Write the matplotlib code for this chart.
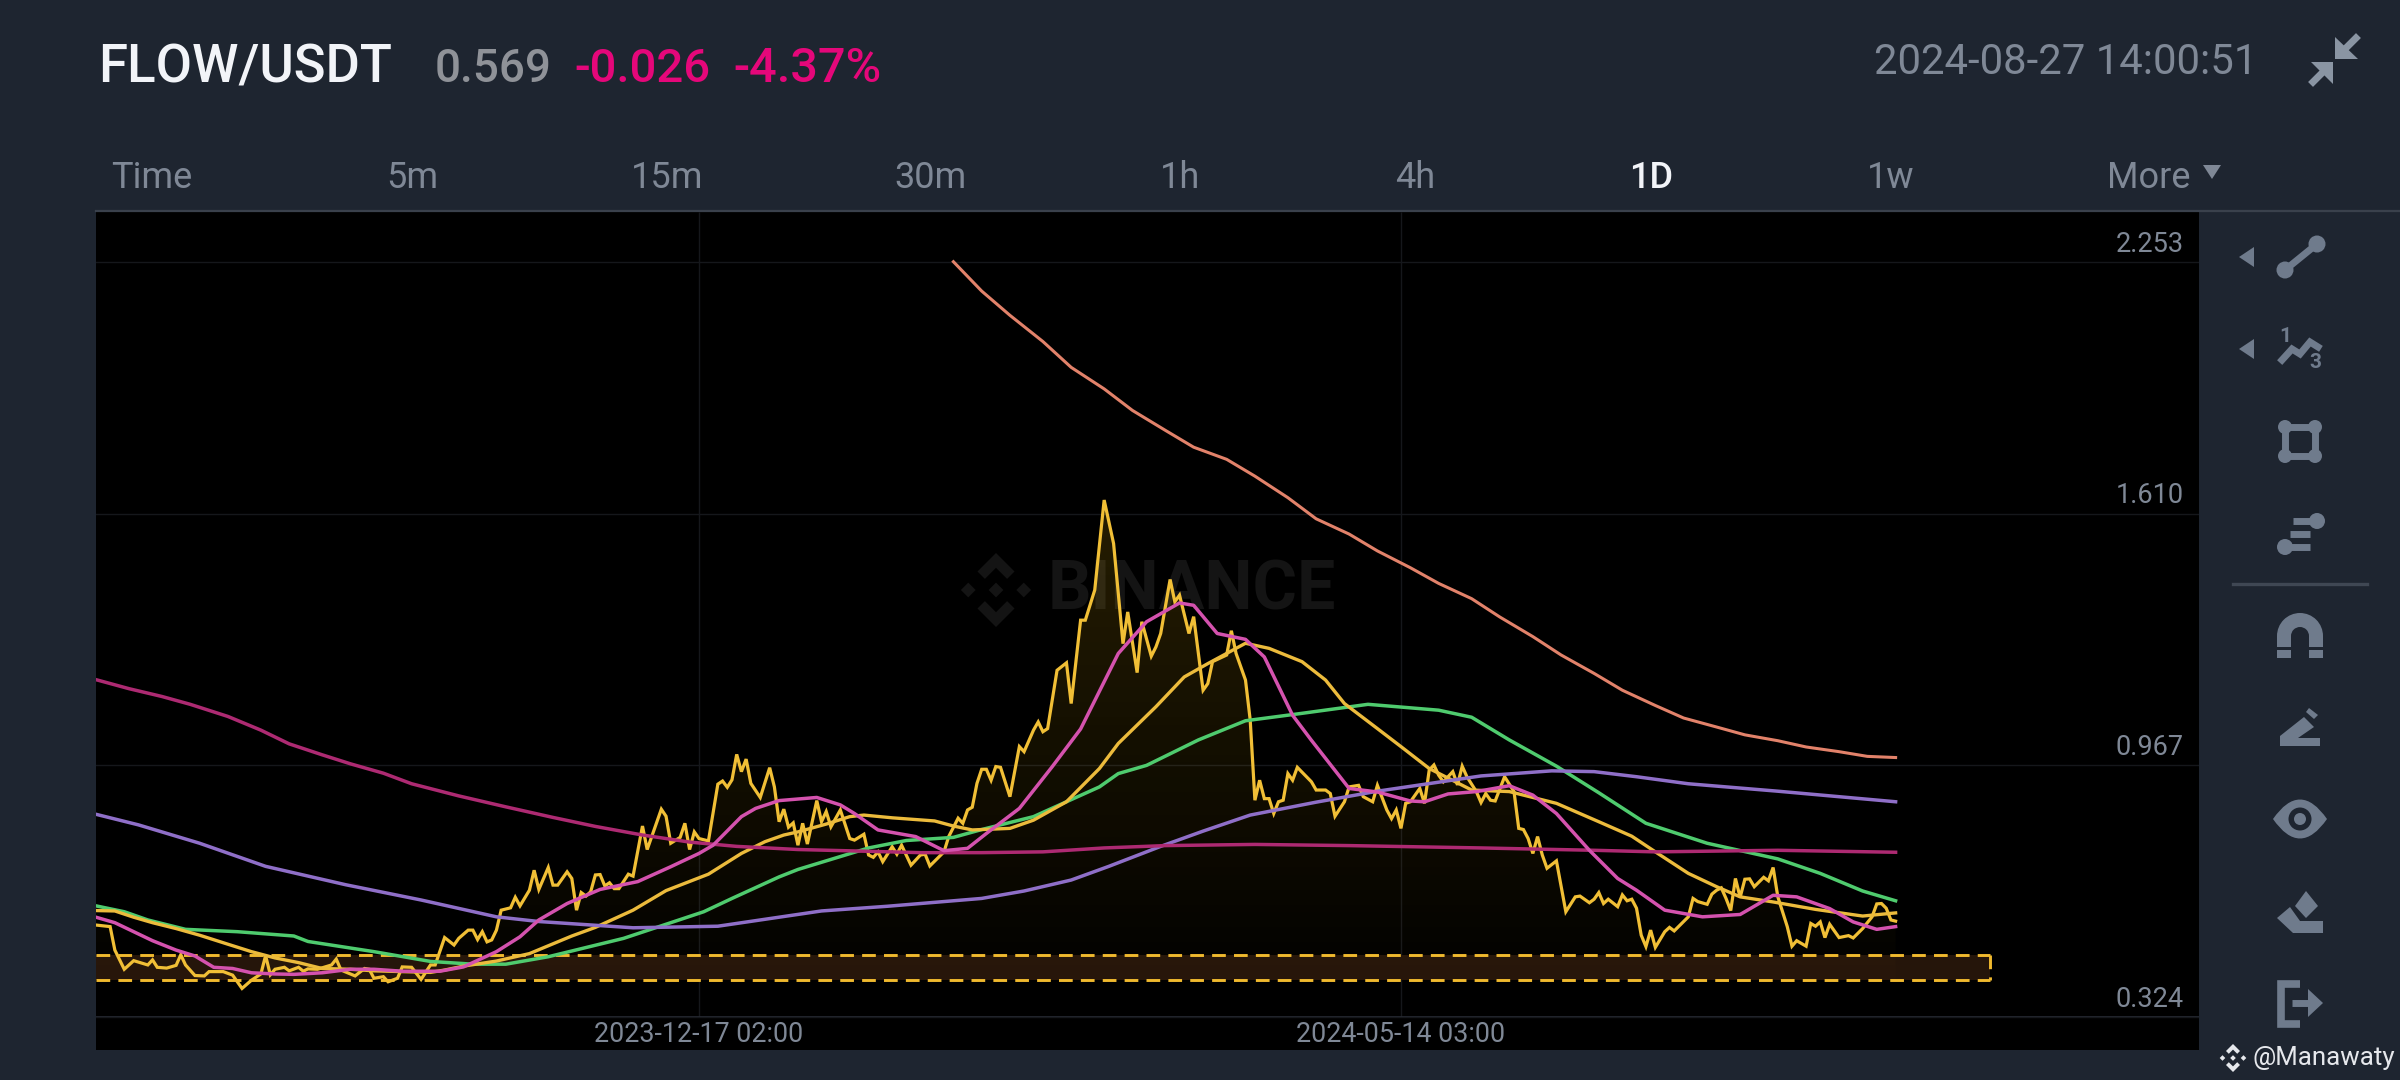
import numpy as np
import matplotlib
matplotlib.use("Agg")
import matplotlib.pyplot as plt
from matplotlib.patches import Polygon, Rectangle, Circle, Wedge, PathPatch
from matplotlib.path import Path
from matplotlib.transforms import ScaledTranslation

plt.rcParams['font.family'] = ['Roboto', 'DejaVu Sans']

# Data (days counted from 2023-12-17) =========================================
price_days = [
    -128, -125, -124, -122, -120, -117, -116, -115, -113, -111,
    -110, -109, -107, -105, -104, -101, -99, -97, -95, -93,
    -92, -91, -90, -88, -87, -85, -84, -83, -81, -78,
    -77, -76, -73, -71, -70, -69, -67, -66, -64, -63,
    -61, -59, -57, -56, -54, -52, -51, -49, -48, -47,
    -46, -45, -44, -43, -42, -40, -39, -38, -36, -35,
    -34, -32, -31, -30, -28, -27, -26, -25, -24, -23,
    -22, -21, -20, -19, -18, -17, -15, -14, -12, -11,
    -8, -7, -6, -4, -3, -2, -1, 0, 2, 4,
    5, 6, 7, 8, 9, 10, 11, 13, 15, 16,
    17, 18, 19, 20, 21, 22, 23, 25, 26, 27,
    28, 30, 32, 33, 35, 36, 37, 38, 39, 41,
    42, 43, 45, 47, 48, 49, 52, 53, 55, 56,
    57, 58, 59, 60, 61, 62, 63, 64, 66, 68,
    69, 71, 72, 73, 74, 76, 78, 79, 81, 82,
    84, 86, 88, 90, 91, 93, 94, 96, 97, 98,
    100, 101, 102, 104, 105, 107, 108, 109, 112, 113,
    114, 116, 117, 118, 119, 120, 121, 122, 123, 124,
    125, 126, 127, 130, 131, 133, 134, 135, 137, 138,
    140, 141, 143, 144, 146, 147, 148, 149, 150, 151,
    153, 154, 155, 156, 157, 158, 160, 161, 162, 163,
    165, 166, 167, 168, 169, 171, 173, 174, 175, 176,
    177, 178, 179, 180, 182, 184, 186, 187, 189, 190,
    191, 192, 193, 195, 196, 197, 198, 199, 200, 201,
    202, 203, 205, 206, 207, 210, 211, 212, 214, 215,
    216, 217, 218, 219, 220, 221, 222, 223, 224, 226,
    227, 228, 229, 231, 232, 233, 235, 236, 237, 238,
    239, 240, 242, 244, 245, 247, 249, 250, 251, 252,
    253, 254,
]
price_close = [
    .559, .555, .495, .446, .468, .457, .470, .451, .449, .456,
    .483, .457, .430, .429, .440, .440, .431, .397, .418, .434,
    .481, .432, .446, .451, .442, .451, .441, .447, .446, .457,
    .472, .444, .429, .448, .446, .423, .427, .414, .423, .452,
    .451, .420, .457, .457, .527, .508, .525, .546, .546, .522,
    .542, .516, .521, .546, .597, .603, .630, .608, .648, .699,
    .650, .706, .661, .661, .695, .678, .597, .642, .633, .644,
    .687, .688, .659, .667, .652, .652, .689, .684, .812, .752,
    .855, .837, .768, .783, .819, .752, .797, .780, .774, .919,
    .927, .911, .930, .995, .951, .983, .921, .885, .961, .912,
    .823, .855, .809, .820, .763, .819, .766, .877, .823, .849,
    .810, .853, .780, .776, .791, .738, .732, .746, .721, .759,
    .740, .763, .712, .738, .740, .710, .746, .785, .832, .819,
    .853, .860, .921, .957, .957, .929, .964, .962, .887, 1.015,
    1.002, 1.057, 1.078, 1.053, 1.061, 1.210, 1.229, 1.125, 1.338, 1.338,
    1.415, 1.645, 1.534, 1.278, 1.359, 1.204, 1.334, 1.246, 1.270, 1.304,
    1.442, 1.385, 1.402, 1.304, 1.347, 1.159, 1.176, 1.232, 1.249, 1.311,
    1.253, 1.185, 1.083, .878, .929, .882, .882, .844, .874, .878,
    .946, .929, .962, .925, .904, .904, .895, .837, .874, .912,
    .916, .887, .874, .916, .853, .831, .853, .806, .870, .874,
    .908, .870, .955, .968, .942, .925, .951, .917, .965, .938,
    .900, .872, .895, .878, .876, .938, .900, .806, .803, .780,
    .742, .785, .738, .704, .723, .593, .631, .633, .616, .625,
    .642, .614, .625, .606, .636, .621, .625, .602, .533, .504,
    .546, .502, .542, .553, .544, .580, .627, .619, .612, .638,
    .648, .654, .627, .596, .678, .630, .676, .677, .657, .681,
    .672, .706, .631, .555, .505, .519, .505, .563, .556, .567,
    .527, .561, .527, .532, .526, .550, .580, .613, .614, .602,
    .572, .569,
]

ma_yellow_days = [-128, -124, -120, -116, -111, -106, -100, -95, -90, -85, -80, -74, -69, -63, -57, -54, -50, -43,
                  -36, -27, -22, -14, -7, 2, 9, 14, 18, 21, 27, 32, 35, 41, 50, 54, 58, 66, 71, 78, 85, 89, 97,
                  103, 108, 116, 121, 128, 133, 137, 144, 149, 155, 164, 172, 182, 191, 198, 203, 210, 216, 221,
                  228, 237, 247, 254]
ma_yellow = [.596, .595, .579, .565, .550, .533, .510, .491, .475, .463, .448, .446, .442, .440, .438, .444, .454, .467,
             .486, .531, .553, .597, .647, .689, .742, .772, .789, .797, .817, .836, .840, .833, .825, .812, .802, .806,
             .827, .874, .959, 1.023, 1.117, 1.193, 1.227, 1.279, 1.266, 1.232, 1.185, 1.125, 1.061, 1.015, .959, .904,
             .900, .870, .823, .786, .746, .691, .657, .631, .618, .599, .582, .590]

ma_pink_days = [-128, -124, -120, -116, -111, -107, -103, -99, -95, -90, -86, -80, -74, -69, -63, -55, -50, -43, -38,
                -34, -28, -21, -13, -6, 0, 3, 9, 12, 17, 25, 30, 33, 38, 46, 52, 57, 61, 68, 75, 81, 89, 95, 102,
                105, 110, 116, 120, 126, 130, 138, 144, 151, 154, 159, 165, 172, 177, 182, 189, 195, 199, 205, 213,
                221, 228, 233, 240, 245, 250, 254]
ma_pink = [.579, .565, .542, .519, .495, .480, .451, .448, .437, .434, .433, .437, .446, .446, .441, .441, .452, .491, .529,
           .572, .614, .650, .670, .708, .742, .763, .836, .857, .877, .885, .866, .844, .802, .785, .749, .755, .793,
           .857, .964, 1.060, 1.253, 1.334, 1.382, 1.376, 1.304, 1.289, 1.244, 1.095, 1.031, .908, .899, .876, .874,
           .894, .900, .915, .891, .844, .750, .678, .648, .597, .580, .586, .635, .631, .601, .567, .548, .555]

ma_green_days = [-128, -122, -117, -109, -98, -86, -83, -69, -57, -48, -41, -32, -16, 1, 7, 17, 21, 36, 44, 54, 60, 71,
                 85, 89, 95, 106, 116, 128, 142, 157, 164, 172, 182, 191, 201, 214, 229, 238, 247, 254]
ma_green = [.608, .593, .572, .548, .542, .531, .517, .491, .466, .459, .459, .478, .525, .593, .627, .682, .701, .756,
            .775, .783, .803, .836, .912, .946, .967, 1.032, 1.081, 1.100, 1.123, 1.108, 1.090, 1.032, .965, .897, .819,
            .768, .728, .691, .646, .621]

ma_purple_days = [-128, -119, -106, -92, -75, -59, -43, -34, -14, 4, 26, 40, 60, 69, 79, 87, 98, 107, 117, 131, 144,
                  166, 181, 190, 199, 210, 229, 254]
ma_purple = [.842, .815, .768, .709, .662, .623, .580, .568, .552, .556, .595, .607, .627, .646, .674, .709, .760, .799,
             .840, .873, .901, .940, .953, .951, .938, .920, .901, .874]

ma_crimson_days = [-128, -121, -114, -108, -100, -93, -87, -80, -74, -67, -61, -51, -41, -31, -22, -12, -2, 8, 21, 34,
                   47, 60, 73, 86, 99, 118, 138, 166, 190, 203, 229, 254]
ma_crimson = [1.186, 1.163, 1.143, 1.123, 1.092, 1.057, 1.022, .994, .971, .947, .920, .889, .861, .834, .811, .789, .771,
              .760, .752, .748, .744, .744, .746, .756, .762, .765, .762, .756, .750, .746, .750, .745]

ma_salmon_days = [54, 60, 66, 73, 79, 86, 92, 99, 105, 112, 118, 125, 131, 138, 144, 151, 157, 164, 170, 177, 183, 190,
                  196, 203, 209, 216, 222, 229, 235, 242, 248, 254]
ma_salmon = [2.254, 2.179, 2.117, 2.050, 1.984, 1.929, 1.874, 1.823, 1.780, 1.749, 1.706, 1.651, 1.597, 1.558, 1.515,
             1.472, 1.432, 1.393, 1.346, 1.296, 1.249, 1.202, 1.159, 1.120, 1.088, 1.065, 1.045, 1.030, 1.014, 1.002,
             .990, .987]

zone_low, zone_high = .419, .482
zone_end = 274

y_ticks = [0.324, 0.967, 1.610, 2.253]
y_labels = ['0.324', '0.967', '1.610', '2.253']
x_ticks = [0, 149]
x_labels = ['2023-12-17 02:00', '2024-05-14 03:00']

tabs = ['Time', '5m', '15m', '30m', '1h', '4h', '1D', '1w', 'More']
tab_pos = [152, 412, 667, 931, 1180, 1415, 1651, 1891, 2149]

BG = '#1e2530'
MUTED = '#7f8896'
ICON = '#6f7b8c'
PINK = '#e5077a'
GOLD = '#f0b92e'

# Figure =======================================================================
W, H = 2400, 1080
fig = plt.figure(figsize=(W / 100, H / 100), dpi=100, facecolor=BG)

ui = fig.add_axes([0, 0, 1, 1], zorder=5)
ui.set_xlim(0, W)
ui.set_ylim(H, 0)
ui.axis('off')

L, R, T, B = 96, 2199, 212, 1050
ax = fig.add_axes([L / W, 1 - B / H, (R - L) / W, (B - T) / H], facecolor='black', zorder=1)
ax.set_xlim(-128, 318.4)
ax.set_ylim(.2397, 2.381)
for s in ax.spines.values():
    s.set_visible(False)


def binance_logo(target, cx, cy, s, color, z=5, tr=None):
    chevron = [(0, -1), (.5, -.5), (.3, -.3), (0, -.6), (-.3, -.3), (-.5, -.5)]
    parts = [chevron, [(x, -y) for x, y in chevron]]
    for ox in (-.75, 0, .75):
        parts.append([(ox, -.2), (ox + .2, 0), (ox, .2), (ox - .2, 0)])
    for p in parts:
        pts = [(cx + x * s, cy + y * s) for x, y in p]
        target.add_patch(Polygon(pts, closed=True, fc=color, ec='none', zorder=z,
                                 transform=tr if tr is not None else target.transData))


# Chart ========================================================================
ax.grid(True, axis='y', color='#15171b', lw=1, zorder=0)
ax.vlines(x_ticks, y_ticks[0], ax.get_ylim()[1], color='#15171b', lw=1, zorder=0)
ax.axhline(y_ticks[0], color='#2b3039', lw=1.2, zorder=1)

binance_logo(ax, 996, 590, 37, '#141414', z=1.1, tr=ui.transData)
ax.text(1048, 610, 'BINANCE', transform=ui.transData, color='#141414', fontsize=49,
        fontweight='bold', va='baseline', ha='left', zorder=1.1)

# zone and gradient under the close line
ax.add_patch(Rectangle((-140, zone_low), zone_end + 140, zone_high - zone_low, fc='#25150a', ec='none', zorder=2))
dash = dict(color=GOLD, lw=2.1, ls=(0, (4.7, 2.8)), zorder=3.05)
ax.plot([-128, zone_end], [zone_high, zone_high], **dash)
ax.plot([-128, zone_end], [zone_low, zone_low], **dash)
ax.plot([zone_end, zone_end], [zone_high, zone_low], **dash)

top = max(price_close)
grad = np.zeros((64, 1, 4))
grad[..., 0], grad[..., 1], grad[..., 2] = 240 / 255, 185 / 255, 11 / 255
grad[:, 0, 3] = np.linspace(.16, .012, 64)
im = ax.imshow(grad, extent=(price_days[0], price_days[-1], zone_low, top), aspect='auto', origin='upper', zorder=2.2)
poly = Polygon(list(zip(price_days, price_close)) + [(price_days[-1], zone_low), (price_days[0], zone_low)],
               closed=True, transform=ax.transData, fc='none', ec='none')
ax.add_patch(poly)
im.set_clip_path(poly)
ax.set_xlim(-128, 318.4)
ax.set_ylim(.2397, 2.381)

ax.plot(price_days, price_close, color='#f1bf36', lw=2.3, zorder=3, solid_joinstyle='miter')
ax.plot(ma_salmon_days, ma_salmon, color='#e2826a', lw=2.2, zorder=3.1)
ax.plot(ma_green_days, ma_green, color='#4fcb6e', lw=2.5, zorder=3.2)
ax.plot(ma_yellow_days, ma_yellow, color='#ecbb3c', lw=2.4, zorder=3.3)
ax.plot(ma_purple_days, ma_purple, color='#8f6fc8', lw=2.5, zorder=3.4)
ax.plot(ma_crimson_days, ma_crimson, color='#ad2a72', lw=2.5, zorder=3.5)
ax.plot(ma_pink_days, ma_pink, color='#d452ae', lw=2.5, zorder=3.6)

# tick labels sit inside the chart
ax.yaxis.tick_right()
ax.set_yticks(y_ticks, y_labels)
ax.tick_params(axis='y', length=0, pad=-11, labelsize=19.5, labelcolor=MUTED)
for lab in ax.get_yticklabels():
    lab.set_ha('right')
    lab.set_va('bottom')
    lab.set_transform(lab.get_transform() + ScaledTranslation(0, 4.5 / 100, fig.dpi_scale_trans))
ax.set_xticks(x_ticks, x_labels)
ax.tick_params(axis='x', length=0, pad=-21, labelsize=19.4, labelcolor=MUTED)

# Header =======================================================================
ui.text(98, 82, 'FLOW/USDT', color='#f2f4f8', fontsize=38, va='baseline', fontweight='medium')
ui.text(435, 82, '0.569', color='#8f9298', fontsize=33, va='baseline', fontweight='medium')
ui.text(574, 82, '-0.026', color=PINK, fontsize=34, va='baseline', fontweight='medium')
ui.text(733, 82, '-4.37%', color=PINK, fontsize=35, va='baseline', fontweight='medium')
ui.text(2257, 74, '2024-08-27 14:00:51', color=MUTED, fontsize=30.2, va='baseline', ha='right')

for t, x in zip(tabs, tab_pos):
    active = t == '1D'
    ui.text(x, 188, t, ha='center', va='baseline', fontsize=26, color='#f2f4f8' if active else MUTED,
            fontweight='medium' if active else 'normal')
ui.add_patch(Polygon([(2203, 165), (2221, 165), (2212, 179)], fc=MUTED, ec='none'))
ui.plot([L, W], [210.5, 210.5], color='#3a414c', lw=1.6)

# collapse icon
C = '#8a95a3'
ui.add_patch(Polygon([(2335, 37), (2335, 59), (2358, 59)], fc=C, ec='none'))
ui.plot([2345, 2356], [49, 38], color=C, lw=5)
ui.add_patch(Polygon([(2311, 62), (2333, 62), (2333, 84)], fc=C, ec='none'))
ui.plot([2322, 2313], [73, 82], color=C, lw=5)

# Side toolbar =================================================================
for y in (257, 349):
    ui.add_patch(Polygon([(2239, y), (2254, y - 10), (2254, y + 10)], fc=ICON, ec='none'))


def dot(x, y, r=8.5):
    ui.add_patch(Circle((x, y), r, fc=ICON, ec='none'))


# line tool
ui.plot([2285, 2317], [270, 244], color=ICON, lw=5)
dot(2285, 270)
dot(2317, 244)
# fib numbers
ui.plot([2282, 2292, 2300, 2310, 2318], [360, 349, 354, 342, 347], color=ICON, lw=5, solid_joinstyle='miter')
ui.text(2285, 336, '1', color=ICON, fontsize=15, fontweight='bold', ha='center', va='center')
ui.text(2315, 362, '3', color=ICON, fontsize=15, fontweight='bold', ha='center', va='center')
# square
ui.add_patch(Rectangle((2285, 427), 30, 29, fc='none', ec=ICON, lw=5))
for x, y in [(2285, 427), (2315, 427), (2285, 456), (2315, 456)]:
    dot(x, y, 7)
# fib lines
ui.plot([2293, 2317], [521, 521], color=ICON, lw=5, solid_capstyle='butt')
ui.plot([2290, 2310], [534, 534], color=ICON, lw=5, solid_capstyle='butt')
ui.plot([2285, 2310], [547, 547], color=ICON, lw=5, solid_capstyle='butt')
dot(2317, 521, 8)
dot(2285, 547, 8)
# separator
ui.plot([2233, 2367], [584, 584], color='#3f4753', lw=2.4)
# magnet
ui.add_patch(Wedge((2300, 636), 23, 180, 360, width=14, fc=ICON, ec='none'))
ui.add_patch(Rectangle((2277, 636), 14, 11, fc=ICON, ec='none'))
ui.add_patch(Rectangle((2309, 636), 14, 11, fc=ICON, ec='none'))
ui.add_patch(Rectangle((2277, 650), 14, 8, fc=ICON, ec='none'))
ui.add_patch(Rectangle((2309, 650), 14, 8, fc=ICON, ec='none'))
# pencil
ui.add_patch(Polygon([(2280, 746), (2280, 736), (2304, 717), (2314, 727), (2298, 738), (2320, 738), (2320, 746)],
                     fc=ICON, ec='none'))
ui.add_patch(Polygon([(2306, 712), (2309, 708), (2318, 715), (2314, 719)], fc=ICON, ec='none'))
# eye
eye = Path([(2273, 819), (2300, 780), (2327, 819), (2300, 858), (2273, 819)],
           [Path.MOVETO, Path.CURVE3, Path.CURVE3, Path.CURVE3, Path.CURVE3])
ui.add_patch(PathPatch(eye, fc=ICON, ec='none'))
ui.add_patch(Circle((2300, 819), 11.5, fc=BG, ec='none'))
ui.add_patch(Circle((2300, 819), 6, fc=ICON, ec='none'))
# eraser
ui.add_patch(Polygon([(2306, 891), (2318, 906), (2306, 918), (2295, 906)], fc=ICON, ec='none'))
ui.add_patch(Polygon([(2277, 918), (2290, 907), (2300, 921), (2323, 921), (2323, 933), (2293, 933)],
                     fc=ICON, ec='none'))
# exit
ui.plot([2300, 2281, 2281, 2300], [984, 984, 1024, 1024], color=ICON, lw=5.5, solid_joinstyle='miter',
        solid_capstyle='butt')
ui.plot([2292, 2310], [1003, 1003], color=ICON, lw=5, solid_capstyle='butt')
ui.add_patch(Polygon([(2308, 989), (2323, 1003), (2308, 1017)], fc=ICON, ec='none'))

# credit
binance_logo(ui, 2233, 1058, 14, '#e6e8ec')
ui.text(2252, 1058, '@Manawaty', color='#e6e8ec', fontsize=18.6, va='center', ha='left')

fig.savefig('out.png', dpi=100, facecolor=BG)
